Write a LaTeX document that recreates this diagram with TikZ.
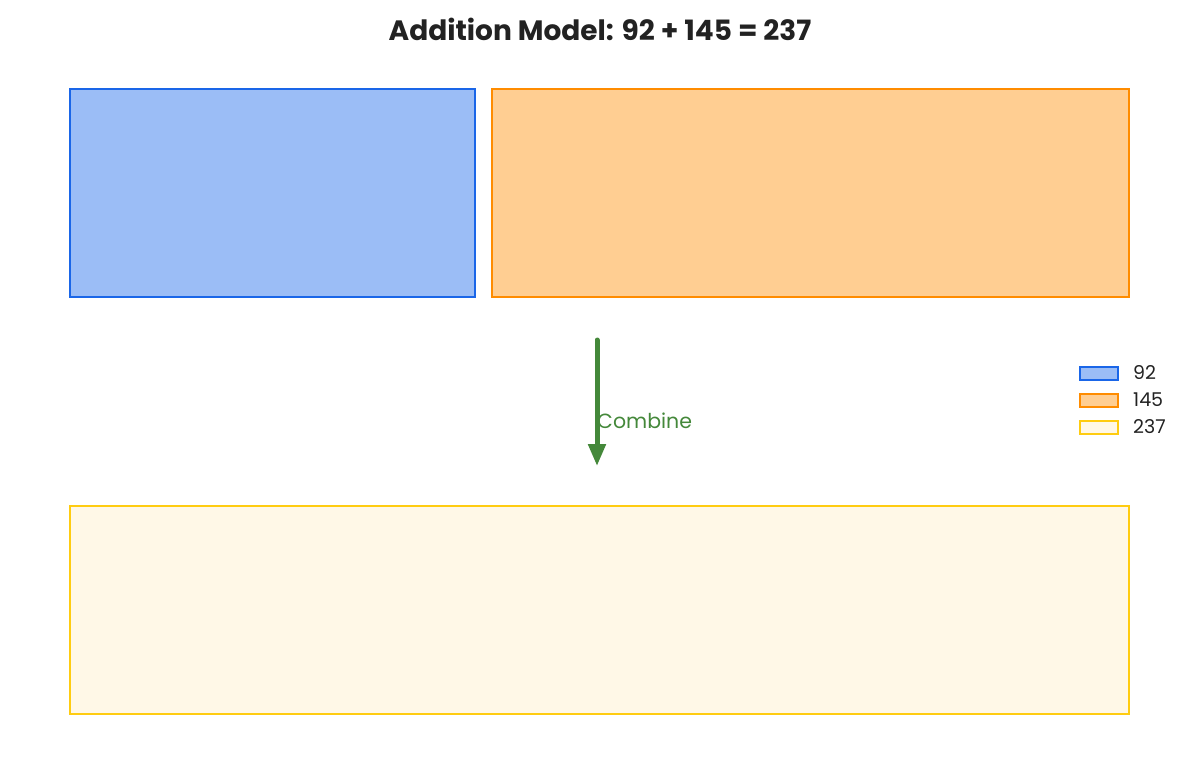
\documentclass[tikz,border=0pt]{standalone}
\usepackage{fontspec}
\setmainfont{Poppins}
\usetikzlibrary{arrows.meta}
\definecolor{blueS}{HTML}{1A66E8}
\definecolor{blueF}{HTML}{9BBDF6}
\definecolor{orS}{HTML}{FF8C00}
\definecolor{orF}{HTML}{FFCE92}
\definecolor{yeS}{HTML}{FFCC11}
\definecolor{yeF}{HTML}{FFF8E7}
\definecolor{grn}{HTML}{44883A}
\definecolor{txt}{HTML}{222222}
\tikzset{
  bar/.style={line width=2pt, inner sep=0pt, outer sep=0pt},
  legbox/.style={line width=2pt, minimum width=38pt, minimum height=13pt, inner sep=0pt},
  legtxt/.style={anchor=west, font=\fontsize{19}{22}\selectfont, text=txt, inner sep=0pt},
}
\begin{document}
\begin{tikzpicture}[x=1pt,y=-1pt]
\useasboundingbox (0,0) rectangle (1200,763);
\node[font=\fontsize{28}{33}\selectfont\bfseries, text=txt] (title) at (600,29) {Addition Model: 92 + 145 = 237};
\draw[bar, draw=blueS, fill=blueF] (70,89) rectangle (475,297);
\node[inner sep=0pt] (a) at (272.5,193) {};
\draw[bar, draw=orS, fill=orF] (492,89) rectangle (1129,297);
\node[inner sep=0pt] (b) at (810.5,193) {};
\draw[bar, draw=yeS, fill=yeF] (70,506) rectangle (1129,714);
\node[inner sep=0pt] (c) at (599.5,610) {};
\coordinate (arrS) at (597,340);
\coordinate (arrE) at (597,466);
\draw[line width=5pt, draw=grn, line cap=round, -{Triangle[length=22pt,width=17pt]}] (arrS) -- (arrE);
\node[anchor=west, inner sep=0pt, text=grn, font=\fontsize{20.5}{24}\selectfont] (comb) at (597,421) {Combine};
\node[legbox, draw=blueS, fill=blueF] (l1) at (1098.5,373) {};
\node[legtxt] (t1) at (1133,373) {92};
\node[legbox, draw=orS, fill=orF] (l2) at (1098.5,400) {};
\node[legtxt] (t2) at (1133,400) {145};
\node[legbox, draw=yeS, fill=yeF] (l3) at (1098.5,427) {};
\node[legtxt] (t3) at (1133,427) {237};
\end{tikzpicture}
\end{document}
